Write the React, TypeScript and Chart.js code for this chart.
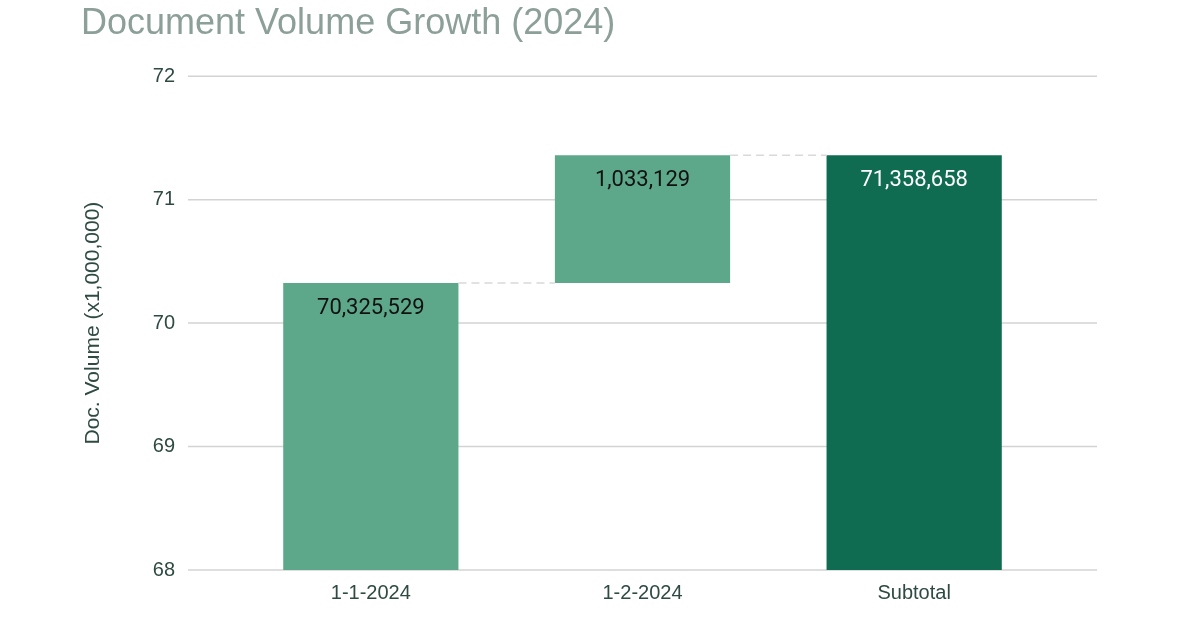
import React, { useEffect, useRef } from "react";
import { Chart, registerables } from "chart.js";

Chart.register(...registerables);

const categories: string[] = ["1-1-2024", "1-2-2024", "Subtotal"];
// Raw document volumes shown in the bar labels
const labelValues: number[] = [70325529, 1033129, 71358658];
// Floating bar ranges, in millions of documents
const barStarts: number[] = [68, 70.325529, 68];
const barEnds: number[] = [70.325529, 71.358658, 71.358658];
const yTicks: number[] = [68, 69, 70, 71, 72];

const barColors = ["#5DA88A", "#5DA88A", "#106C51"];
const labelColors = ["#111111", "#111111", "#FFFFFF"];

const extGridPlugin = {
  id: "extGrid",
  beforeDatasetsDraw(chart: any) {
    const { ctx, chartArea, scales } = chart;
    const y = scales.y;
    ctx.save();
    ctx.strokeStyle = "#d3d3d3";
    ctx.lineWidth = 1.5;
    y.ticks.forEach((t: any) => {
      const py = y.getPixelForValue(t.value);
      ctx.beginPath();
      ctx.moveTo(chartArea.left - 47, py);
      ctx.lineTo(chartArea.right + 47, py);
      ctx.stroke();
    });
    ctx.restore();
  },
};

const connectorPlugin = {
  id: "connectors",
  afterDatasetsDraw(chart: any) {
    const { ctx, scales } = chart;
    const meta = chart.getDatasetMeta(0);
    ctx.save();
    ctx.strokeStyle = "#d9d9d9";
    ctx.lineWidth = 1.5;
    ctx.setLineDash([8, 5]);
    for (let i = 0; i < meta.data.length - 1; i++) {
      const a = meta.data[i];
      const b = meta.data[i + 1];
      const py = scales.y.getPixelForValue(barEnds[i]);
      ctx.beginPath();
      ctx.moveTo(a.x + a.width / 2, py);
      ctx.lineTo(b.x - b.width / 2, py);
      ctx.stroke();
    }
    ctx.restore();
  },
};

const valueLabelPlugin = {
  id: "valueLabels",
  afterDatasetsDraw(chart: any) {
    const { ctx, scales } = chart;
    const meta = chart.getDatasetMeta(0);
    ctx.save();
    ctx.font = "22px Roboto";
    ctx.textAlign = "center";
    ctx.textBaseline = "alphabetic";
    meta.data.forEach((bar: any, i: number) => {
      const top = scales.y.getPixelForValue(barEnds[i]);
      ctx.fillStyle = labelColors[i];
      ctx.fillText(labelValues[i].toLocaleString("en-US"), bar.x, top + 31);
    });
    ctx.restore();
  },
};

export default function App() {
  const ref = useRef<HTMLCanvasElement | null>(null);

  useEffect(() => {
    if (!ref.current) return;
    const chart = new Chart(ref.current, {
      type: "bar",
      data: {
        labels: categories,
        datasets: [
          {
            data: categories.map((_, i) => [barStarts[i], barEnds[i]]) as any,
            backgroundColor: barColors,
            borderWidth: 0,
            barPercentage: 0.645,
            categoryPercentage: 1,
          },
        ],
      },
      options: {
        animation: false,
        responsive: false,
        layout: { padding: { left: 81, right: 150, top: 0, bottom: 22 } },
        plugins: {
          legend: { display: false },
          tooltip: { enabled: false },
          title: {
            display: true,
            text: "Document Volume Growth (2024)",
            align: "start",
            color: "#8C9F98",
            font: { family: "'Liberation Sans', Arial, sans-serif", size: 36, weight: "normal" },
            padding: { top: 2, bottom: 31 },
          },
        },
        scales: {
          x: {
            afterFit(scale: any) {
              scale.height = 35;
              scale.paddingLeft = 0;
              scale.paddingRight = 0;
            },
            grid: { display: false, drawTicks: false },
            border: { display: false },
            ticks: {
              color: "#2E4A43",
              padding: 11,
              font: { family: "'Liberation Sans', Arial, sans-serif", size: 20 },
            },
          },
          y: {
            min: yTicks[0],
            max: yTicks[yTicks.length - 1],
            afterBuildTicks(scale: any) {
              scale.ticks = yTicks.map((v) => ({ value: v }));
            },
            afterFit(scale: any) {
              scale.width = 154;
              scale.paddingTop = 0;
              scale.paddingBottom = 0;
            },
            grid: { display: false, drawTicks: false },
            border: { display: false },
            ticks: {
              color: "#2E4A43",
              padding: 60,
              font: { family: "'Liberation Sans', Arial, sans-serif", size: 20 },
            },
            title: {
              display: true,
              text: "Doc. Volume (x1,000,000)",
              color: "#2E4A43",
              font: { family: "'Liberation Sans', Arial, sans-serif", size: 21 },
              padding: { top: 0, bottom: 0 },
            },
          },
        },
      },
      plugins: [extGridPlugin, connectorPlugin, valueLabelPlugin],
    });
    return () => chart.destroy();
  }, []);

  return (
    <div style={{ position: "fixed", left: 0, top: 0, width: 1200, height: 627, background: "#fff" }}>
      <canvas ref={ref} width={1200} height={627} />
    </div>
  );
}
